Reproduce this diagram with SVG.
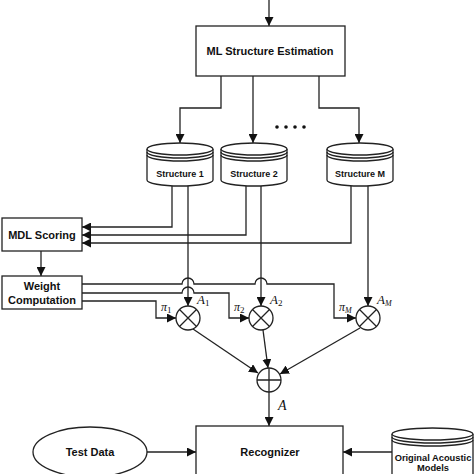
<svg xmlns="http://www.w3.org/2000/svg" width="474" height="474" viewBox="0 0 474 474">
<style>
.box{fill:#fff;stroke:#222;stroke-width:1.3}
.ln{fill:none;stroke:#222;stroke-width:1.3}
.t{font-family:"Liberation Sans",Arial,sans-serif;font-weight:bold;fill:#111;text-anchor:middle}
.m{font-family:"Liberation Serif","Times New Roman",serif;font-style:italic;fill:#111}
.s{font-style:normal}
</style>
<defs>
<marker id="ah" viewBox="0 0 10 10" refX="10" refY="5" markerWidth="9" markerHeight="9" markerUnits="userSpaceOnUse" orient="auto">
<path d="M0,0 L10,5 L0,10 z" fill="#111"/>
</marker>
</defs>
<rect width="474" height="474" fill="#fff"/>

<g id="connectors" class="ln">
<path d="M269,0 V26" marker-end="url(#ah)"/>
<path d="M221,76 V108 H180 V143" marker-end="url(#ah)"/>
<path d="M253,76 V143" marker-end="url(#ah)"/>
<path d="M319,76 V108 H359 V143" marker-end="url(#ah)"/>
<path d="M172,186 V227 H82" marker-end="url(#ah)"/>
<path d="M246,186 V235 H82" marker-end="url(#ah)"/>
<path d="M351,186 V243 H82" marker-end="url(#ah)"/>
<path d="M188,186 V306" marker-end="url(#ah)"/>
<path d="M261,186 V306" marker-end="url(#ah)"/>
<path d="M368,186 V306" marker-end="url(#ah)"/>
<path d="M41,251 V276" marker-end="url(#ah)"/>
<path d="M82,284 H182 A6,6 0 0 1 194,284 H255 A6,6 0 0 1 267,284 H334 V318 H356" marker-end="url(#ah)"/>
<path d="M82,293 H182 A6,6 0 0 1 194,293 H229 V318 H249" marker-end="url(#ah)"/>
<path d="M82,301 H156 V318 H176" marker-end="url(#ah)"/>
<path d="M193,329 L258,373" marker-end="url(#ah)"/>
<path d="M263,330 L268,368" marker-end="url(#ah)"/>
<path d="M360,328 L280,374" marker-end="url(#ah)"/>
<path d="M269,392 V426" marker-end="url(#ah)"/>
<path d="M147,452 H196" marker-end="url(#ah)"/>
<path d="M392,452 H343" marker-end="url(#ah)"/>
</g>

<g id="ml-estimation">
<rect class="box" x="196" y="26" width="149" height="50"/>
<text class="t" x="270" y="55" font-size="11">ML Structure Estimation</text>
</g>

<g id="dots" fill="#111">
<circle cx="277" cy="127" r="1.8"/><circle cx="286" cy="127" r="1.8"/><circle cx="295" cy="127" r="1.8"/><circle cx="304" cy="127" r="1.8"/>
</g>

<g id="structure-1">
<path class="box" d="M147,149 V180 A33,6 0 0 0 213,180 V149"/>
<ellipse class="box" cx="180" cy="149" rx="33" ry="6"/>
<path class="ln" d="M147,152 A33,6 0 0 0 213,152 M147,155 A33,6 0 0 0 213,155"/>
<text class="t" x="180" y="177" font-size="9">Structure 1</text>
</g>
<g id="structure-2">
<path class="box" d="M221,149 V180 A33,6 0 0 0 287,180 V149"/>
<ellipse class="box" cx="254" cy="149" rx="33" ry="6"/>
<path class="ln" d="M221,152 A33,6 0 0 0 287,152 M221,155 A33,6 0 0 0 287,155"/>
<text class="t" x="254" y="177" font-size="9">Structure 2</text>
</g>
<g id="structure-m">
<path class="box" d="M327,149 V180 A33,6 0 0 0 393,180 V149"/>
<ellipse class="box" cx="360" cy="149" rx="33" ry="6"/>
<path class="ln" d="M327,152 A33,6 0 0 0 393,152 M327,155 A33,6 0 0 0 393,155"/>
<text class="t" x="360" y="177" font-size="9">Structure M</text>
</g>

<g id="mdl-scoring">
<rect class="box" x="2" y="218" width="80" height="33"/>
<text class="t" x="42" y="239" font-size="11">MDL Scoring</text>
</g>
<g id="weight-computation">
<rect class="box" x="2" y="276" width="80" height="33"/>
<text class="t" x="42" y="290" font-size="11">Weight</text>
<text class="t" x="42" y="304" font-size="11">Computation</text>
</g>

<g id="mult-1">
<circle class="box" cx="188" cy="318" r="12"/>
<path class="ln" d="M179.5,309.5 L196.5,326.5 M196.5,309.5 L179.5,326.5"/>
<text class="m" x="161" y="311" font-size="12">π<tspan class="s" font-size="9" dy="2">1</tspan></text>
<text class="m" x="197" y="304" font-size="13">A<tspan class="s" font-size="9" dy="2">1</tspan></text>
</g>
<g id="mult-2">
<circle class="box" cx="261" cy="318" r="12"/>
<path class="ln" d="M252.5,309.5 L269.5,326.5 M269.5,309.5 L252.5,326.5"/>
<text class="m" x="234" y="311" font-size="12">π<tspan class="s" font-size="9" dy="2">2</tspan></text>
<text class="m" x="270" y="304" font-size="13">A<tspan class="s" font-size="9" dy="2">2</tspan></text>
</g>
<g id="mult-m">
<circle class="box" cx="368" cy="318" r="12"/>
<path class="ln" d="M359.5,309.5 L376.5,326.5 M376.5,309.5 L359.5,326.5"/>
<text class="m" x="339" y="311" font-size="12">π<tspan font-size="8" dy="2">M</tspan></text>
<text class="m" x="377" y="304" font-size="13">A<tspan font-size="8" dy="2">M</tspan></text>
</g>

<g id="sum">
<circle class="box" cx="269" cy="380" r="12"/>
<path class="ln" d="M257,380 H281 M269,368 V392"/>
<text class="m" x="278" y="410" font-size="14">A</text>
</g>

<g id="recognizer">
<rect class="box" x="196" y="426" width="147" height="60"/>
<text class="t" x="270" y="456" font-size="11">Recognizer</text>
</g>

<g id="test-data">
<ellipse class="box" cx="90" cy="452" rx="57" ry="25"/>
<text class="t" x="90" y="456" font-size="11">Test Data</text>
</g>

<g id="original-models">
<path class="box" d="M392,434 V480 H473 V434"/>
<ellipse class="box" cx="432.5" cy="434" rx="40.5" ry="6"/>
<path class="ln" d="M392,437 A40.5,6 0 0 0 473,437 M392,440 A40.5,6 0 0 0 473,440"/>
<text class="t" x="433" y="461" font-size="9.3">Original Acoustic</text>
<text class="t" x="433" y="471" font-size="9.3">Models</text>
</g>
</svg>
